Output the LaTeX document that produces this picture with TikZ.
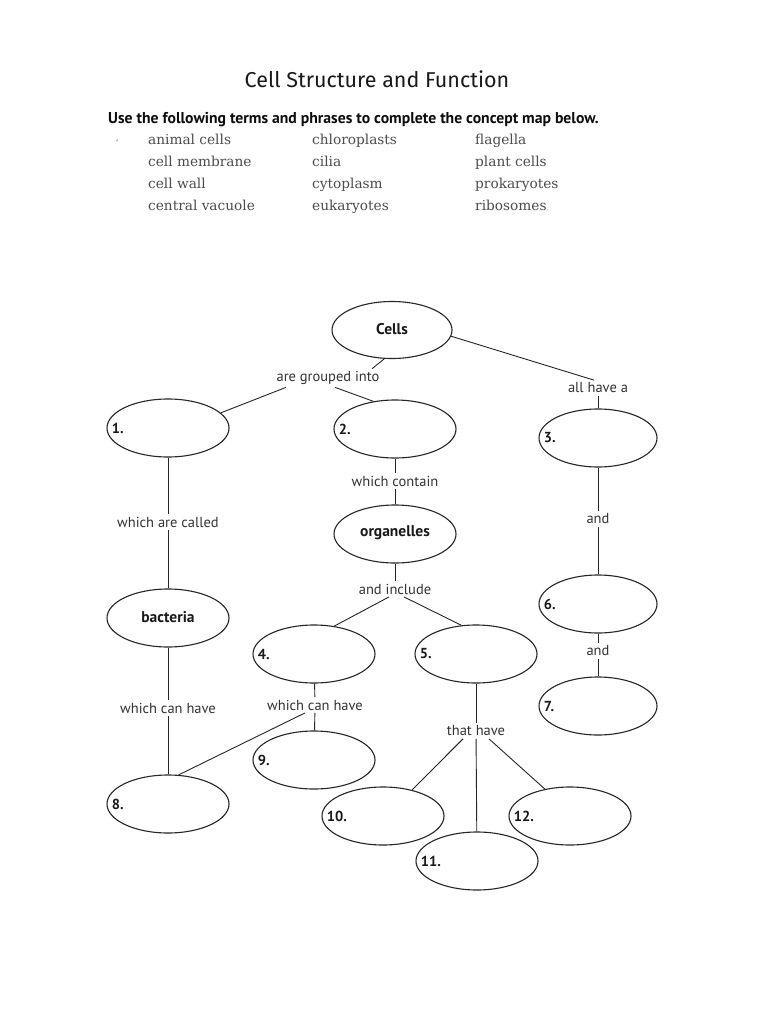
\documentclass[tikz,border=0pt]{standalone}
\usepackage{fontspec}
\setmainfont{DejaVu Serif}
\newfontfamily\mapfont{PT Sans}
\newfontfamily\titlefont{Fira Sans}
\usetikzlibrary{shapes.geometric}
\begin{document}
\begin{tikzpicture}[x=1pt,y=-1pt,
  bubble/.style={draw=black!85, line width=1.1pt, ellipse, minimum width=122pt, minimum height=58pt, inner sep=0pt},
  numlab/.style={font=\mapfont\bfseries\fontsize{14.5}{16}\selectfont, text=black!90},
  conceptname/.style={font=\mapfont\bfseries\fontsize{15.5}{17}\selectfont, text=black!90},
  lab/.style={font=\mapfont\fontsize{14.5}{16}\selectfont, text=black!80, inner sep=2.5pt},
  term/.style={font=\fontsize{13.7}{16}\selectfont, text=black!70, anchor=base west, inner sep=0pt},
  link/.style={draw=black!85, line width=0.9pt}
]
\useasboundingbox[fill=white] (0,0) rectangle (768,1024);

% header
\node[font=\titlefont\fontsize{21.5}{25}\selectfont, text=black!90] (title) at (377,79) {Cell Structure and Function};
\node[font=\mapfont\bfseries\fontsize{15.7}{18}\selectfont, text=black!95, anchor=base west, inner sep=0pt] (instr) at (108,124) {Use the following terms and phrases to complete the concept map below.};
\node[font=\fontsize{9}{10}\selectfont, text=black!60, inner sep=0pt] (tick) at (117,143) {`};

\node[term] (w1) at (148,145) {animal cells};
\node[term] (w2) at (148,167) {cell membrane};
\node[term] (w3) at (148,189) {cell wall};
\node[term] (w4) at (148,211) {central vacuole};
\node[term] (w5) at (312,145) {chloroplasts};
\node[term] (w6) at (312,167) {cilia};
\node[term] (w7) at (312,189) {cytoplasm};
\node[term] (w8) at (312,211) {eukaryotes};
\node[term] (w9) at (475,145) {flagella};
\node[term] (w10) at (475,167) {plant cells};
\node[term] (w11) at (475,189) {prokaryotes};
\node[term] (w12) at (475,211) {ribosomes};

% ellipses
\node[bubble, minimum width=120pt, minimum height=57pt] (cells) at (392,330) {};
\node[conceptname] (cellst) at (392,329) {Cells};
\node[bubble, label={[numlab, anchor=west, xshift=2pt]west:1.}] (n1) at (168,428) {};
\node[bubble, label={[numlab, anchor=west, xshift=2pt]west:2.}] (n2) at (395,429) {};
\node[bubble, minimum width=118pt, label={[numlab, anchor=west, xshift=2pt]west:3.}] (n3) at (598,438) {};
\node[bubble] (org) at (395,534) {};
\node[conceptname] (orgt) at (395,533) {organelles};
\node[bubble] (bac) at (168,618) {};
\node[conceptname] (bact) at (168,617) {bacteria};
\node[bubble, minimum width=118pt, label={[numlab, anchor=west, xshift=2pt]west:6.}] (n6) at (598,604) {};
\node[bubble, label={[numlab, anchor=west, xshift=2pt]west:4.}] (n4) at (314,654) {};
\node[bubble, label={[numlab, anchor=west, xshift=2pt]west:5.}] (n5) at (476,654) {};
\node[bubble, minimum width=118pt, label={[numlab, anchor=west, xshift=2pt]west:7.}] (n7) at (598,706) {};
\node[bubble, label={[numlab, anchor=west, xshift=2pt]west:9.}] (n9) at (314,760) {};
\node[bubble, label={[numlab, anchor=west, xshift=2pt]west:8.}] (n8) at (168,804) {};
\node[bubble, label={[numlab, anchor=west, xshift=2pt]west:10.}] (n10) at (383,816) {};
\node[bubble, label={[numlab, anchor=west, xshift=2pt]west:12.}] (n12) at (570,816) {};
\node[bubble, label={[numlab, anchor=west, xshift=2pt]west:11.}] (n11) at (477,861) {};

% linking phrases
\node[lab] (lgroup) at (328,378) {are grouped into};
\node[lab] (lall) at (598,388) {all have a};
\node[lab] (lcalled) at (168,522) {which are called};
\node[lab] (lcontain) at (395,481) {which contain};
\node[lab] (land1) at (598,519) {and};
\node[lab] (linclude) at (395,589) {and include};
\node[lab] (land2) at (598,651) {and};
\node[lab] (lcan1) at (168,708) {which can have};
\node[lab] (lcan2) at (315,705) {which can have};
\node[lab] (lthat) at (476,731) {that have};

% connectors
\draw[link] (cells.255) -- ([xshift=-10pt]lgroup.north east);
\draw[link] ([xshift=-42pt]lgroup.south) -- (n1.16);
\draw[link] ([xshift=7pt]lgroup.south) -- (n2.128);
\draw[link] (cells.-6) -- ([xshift=-4pt]lall.north);
\draw[link] (lall) -- (n3);
\draw[link] (n1) -- (lcalled);
\draw[link] (lcalled) -- (bac);
\draw[link] (n2) -- (lcontain);
\draw[link] (lcontain) -- (org);
\draw[link] (n3) -- (land1);
\draw[link] (land1) -- (n6);
\draw[link] (n6) -- (land2);
\draw[link] (land2) -- (n7);
\draw[link] (org) -- (linclude);
\draw[link] ([xshift=-6pt]linclude.south) -- (n4.54);
\draw[link] ([xshift=9pt]linclude.south) -- (n5.117);
\draw[link] (bac) -- (lcan1);
\draw[link] (lcan1) -- (n8);
\draw[link] (n4) -- (lcan2);
\draw[link] (lcan2) -- (n9);
\draw[link] ([xshift=-10pt]lcan2.south) -- (n8.70);
\draw[link] (n5) -- (lthat);
\draw[link] ([xshift=-13pt]lthat.south) -- (n10.42);
\draw[link] (lthat) -- (n11);
\draw[link] ([xshift=13pt]lthat.south) -- (n12.133);
\end{tikzpicture}
\end{document}
